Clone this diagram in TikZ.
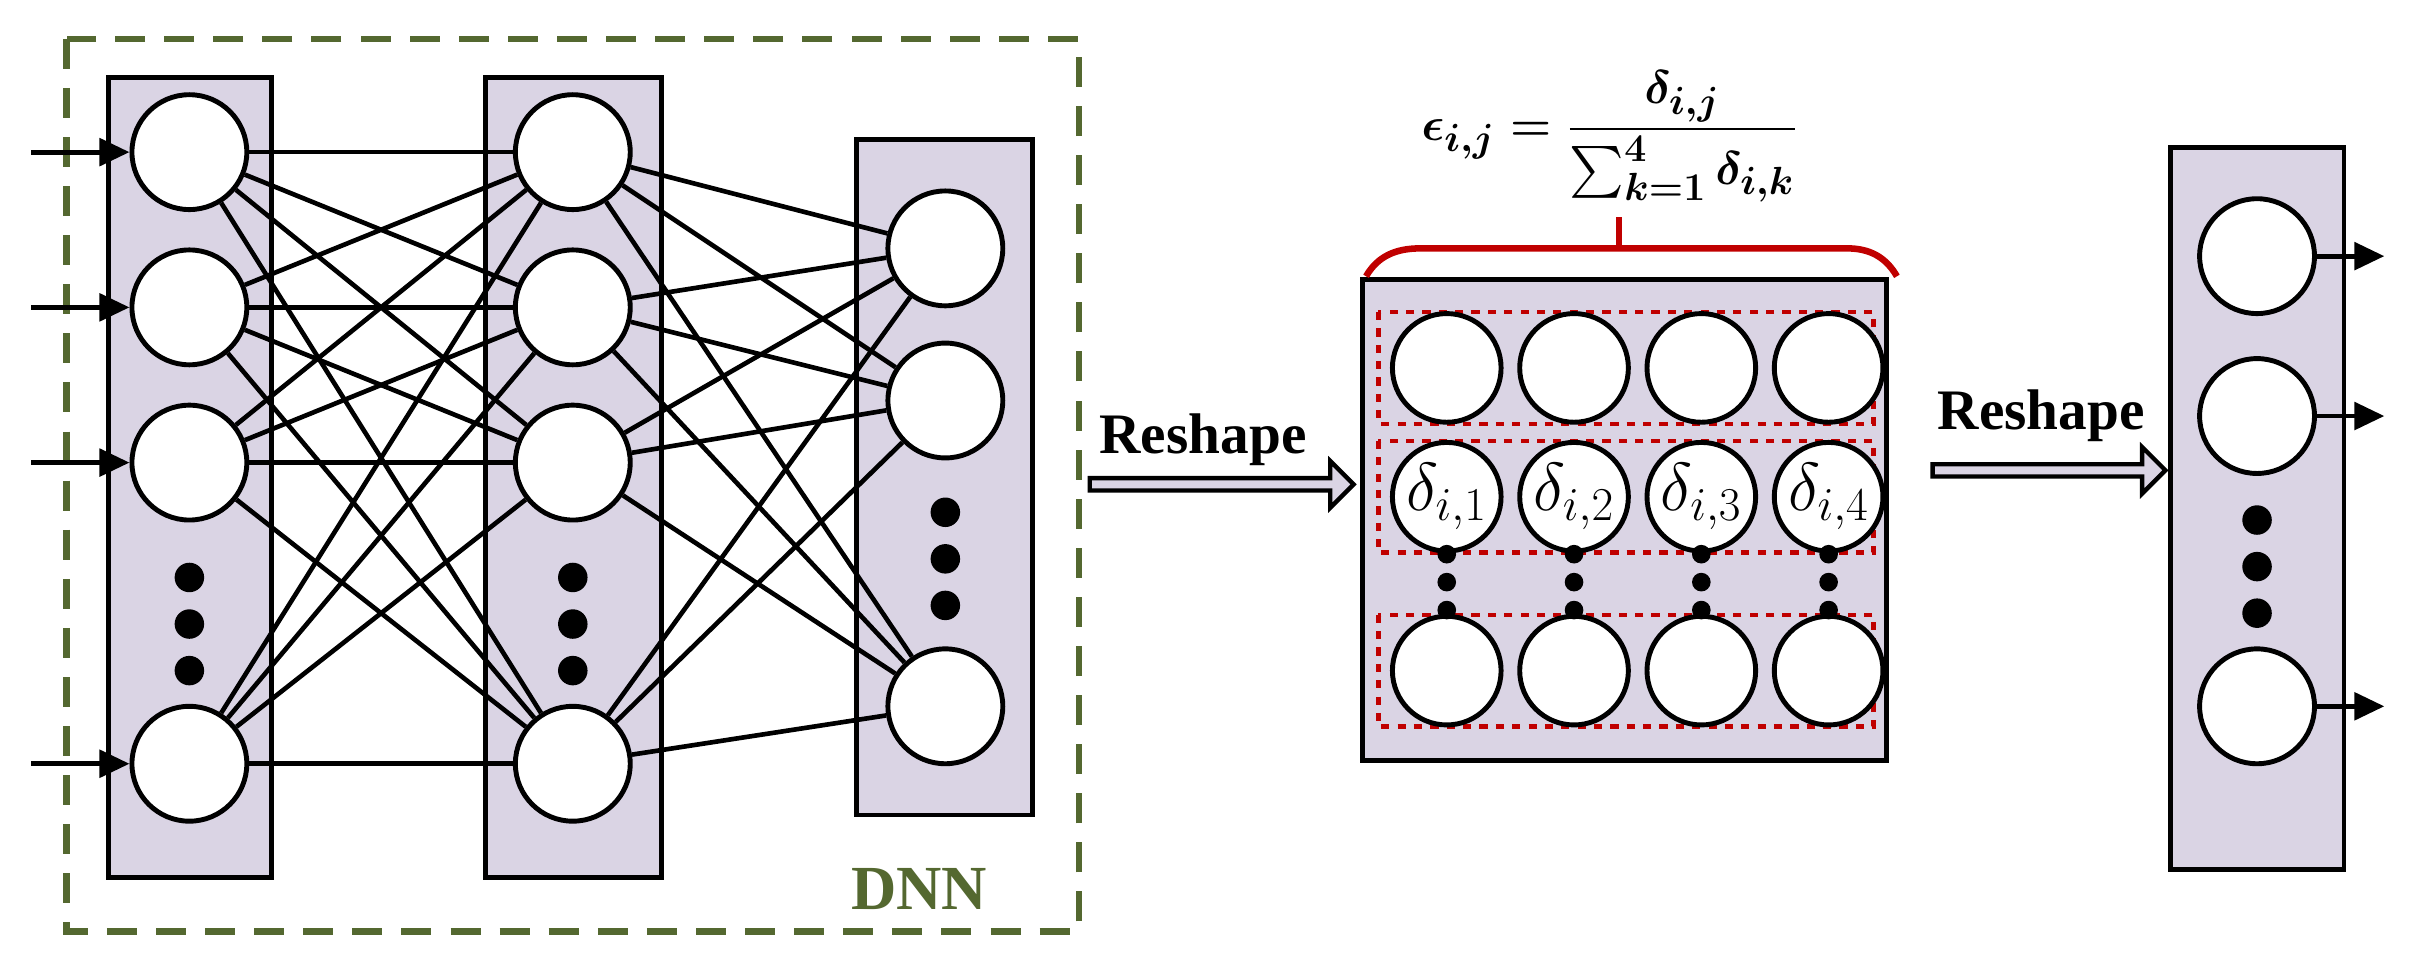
\documentclass[tikz,border=0pt]{standalone}
\usepackage{amsmath}
\usepackage{amssymb}
\usepackage{fontspec}
\setmainfont{Liberation Serif}
\usepackage{tikz}
\usetikzlibrary{arrows.meta, positioning, shapes.arrows}
\definecolor{layerfill}{RGB}{218,212,228}
\definecolor{dnngreen}{RGB}{84,104,48}
\definecolor{bracered}{RGB}{192,0,0}
\tikzset{
	neuron/.style={circle, draw, line width=1.8pt, fill=white, minimum size=74\unitlength, inner sep=0pt},
	small neuron/.style={neuron, minimum size=70\unitlength},
	layer/.style={draw, line width=1.8pt, fill=layerfill},
	link/.style={line width=1.7pt},
	dot/.style={circle, fill=black, minimum size=19\unitlength, inner sep=0pt},
	sdot/.style={circle, fill=black, minimum size=12\unitlength, inner sep=0pt},
	io/.style={line width=1.8pt, -{Triangle[length=11pt, width=10pt]}},
	rowbox/.style={draw=bracered, dashed, line width=1.6pt},
	reshape/.style={single arrow, draw, line width=1.6pt, fill=layerfill, minimum height=170\unitlength, minimum width=30\unitlength, single arrow head extend=5pt, inner sep=1pt},
}
\setlength{\unitlength}{0.02cm}
\begin{document}
\begin{tikzpicture}[x=0.02cm, y=-0.02cm]
\useasboundingbox (0,0) rectangle (1568,630);

% DNN frame
\draw[dnngreen, line width=2.4pt, dash pattern=on 11pt off 7pt] (43,25) rectangle (695,600);
\node[text=dnngreen, font=\bfseries\fontsize{23}{25}\selectfont] (dnn) at (592,573) {DNN};

% layers
\draw[layer] (70,50) rectangle (175,565);
\draw[layer] (313,50) rectangle (426,565);
\draw[layer] (552,90) rectangle (665,525);

\foreach \y [count=\i] in {98, 198, 298, 492} {
	\node[neuron] (a\i) at (122,\y) {};
	\node[neuron] (b\i) at (369,\y) {};
	\coordinate (in\i) at (20,\y);
	\draw[io] (in\i) -- (a\i);
}
\foreach \y [count=\i] in {160, 258, 455}
	\node[neuron] (c\i) at (609,\y) {};

\foreach \y in {372, 402, 432} {
	\node[dot] at (122,\y) {};
	\node[dot] at (369,\y) {};
}
\foreach \y in {330, 360, 390}
	\node[dot] at (609,\y) {};

\foreach \i in {1,...,4} {
	\foreach \j in {1,...,4}
		\draw[link] (a\i) -- (b\j);
	\foreach \j in {1,...,3}
		\draw[link] (b\i) -- (c\j);
}

% first reshape
\node[font=\bfseries\fontsize{21}{23}\selectfont] (r1) at (775,283) {Reshape};
\node[reshape] (arr1) at (785,312) {};

% matrix
\draw[layer] (878,180) rectangle (1215,490);
\foreach \y in {237, 320, 432}
	\draw[rowbox] (888,\y-36) rectangle (1207,\y+36);
\foreach \x [count=\j] in {932, 1014, 1096, 1178} {
	\node[small neuron] (m1\j) at (\x,237) {};
	\node[small neuron, font=\fontsize{23}{25}\selectfont] (m2\j) at (\x,320) {$\delta_{i,\j}$};
	\node[small neuron] (m3\j) at (\x,432) {};
	\foreach \y in {357, 375, 393}
		\node[sdot] at (\x,\y) {};
}

% normalisation brace
\draw[bracered, line width=2.4pt] (880,178) to[out=60, in=180] (915,160) -- (1190,160) to[out=0, in=120] (1222,178);
\draw[bracered, line width=2.4pt] (1043,160) -- (1043,140);
\node[font=\fontsize{19}{21}\selectfont] (eq) at (1037,88)
	{$\boldsymbol{\epsilon_{i,j} = \dfrac{\delta_{i,j}}{\displaystyle\textstyle\sum_{k=1}^{4}\delta_{i,k}}}$};

% second reshape
\node[font=\bfseries\fontsize{21}{23}\selectfont] (r2) at (1315,268) {Reshape};
\node[reshape, minimum height=150\unitlength] (arr2) at (1318,303) {};

% output layer
\draw[layer] (1398,95) rectangle (1510,560);
\foreach \y [count=\i] in {165, 268, 455} {
	\node[neuron] (d\i) at (1454,\y) {};
	\coordinate (out\i) at (1536,\y);
	\draw[io] (d\i) -- (out\i);
}
\foreach \y in {335, 365, 395}
	\node[dot] at (1454,\y) {};

\end{tikzpicture}
\end{document}
